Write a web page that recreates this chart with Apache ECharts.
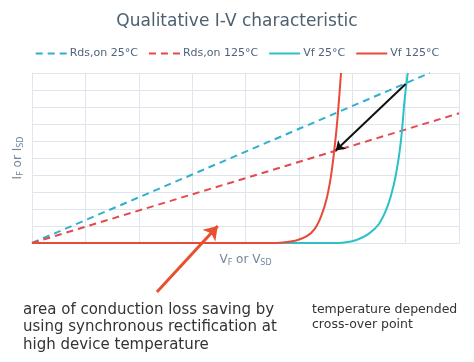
<!DOCTYPE html>
<html><head><meta charset="utf-8">
<script src="https://cdn.jsdelivr.net/npm/echarts@6/dist/echarts.min.js"></script>
<style>html,body{margin:0;padding:0;background:#fff}#c{width:474px;height:362px}</style>
</head><body><div id="c"></div>
<script>
// Series names
var seriesNames = ['Rds,on 25°C', 'Rds,on 125°C', 'Vf 25°C', 'Vf 125°C'];
// Rds,on 25°C (straight line)
var rds25X = [0, 7.45];
var rds25Y = [0, 10];
// Rds,on 125°C (straight line)
var rds125X = [0, 8];
var rds125Y = [0, 7.63];
// Vf 25°C diode curve
var vf25X = [0, 5.6, 5.85, 6.08, 6.3, 6.5, 6.66, 6.78, 6.87, 6.93, 6.98, 7.04];
var vf25Y = [0, 0, 0.03, 0.18, 0.52, 1.12, 2.15, 3.45, 5.0, 6.55, 8.4, 10];
// Vf 125°C diode curve
var vf125X = [0, 4.45, 4.7, 4.95, 5.15, 5.3, 5.42, 5.52, 5.6, 5.66, 5.72, 5.79];
var vf125Y = [0, 0, 0.03, 0.15, 0.4, 0.85, 1.6, 2.6, 3.9, 5.37, 7.2, 10];
// Annotation arrows (data coordinates: from -> to)
var blackArrow = [[7.0, 9.35], [5.69, 5.44]];
var redArrow = [[2.34, -2.88], [3.48, 1.0]];
// Axis range
var xMin = 0, xMax = 8, xStep = 1;
var yMin = 0, yMax = 10, yStep = 1;

function zip(xs, ys) { return xs.map(function (x, i) { return [x, ys[i]]; }); }

var FONT = 'DejaVu Sans';
var chart = echarts.init(document.getElementById('c'), null, {renderer: 'canvas'});
var gridColor = '#dfe5ec';
chart.setOption({
  animation: false,
  backgroundColor: '#fff',
  textStyle: {fontFamily: FONT},
  title: {
    text: 'Qualitative I-V characteristic',
    left: 'center', top: 8,
    textStyle: {fontFamily: FONT, fontSize: 17, fontWeight: 'normal', color: '#4d6070'}
  },
  legend: {
    data: seriesNames,
    top: 43, left: 'center',
    itemWidth: 31, itemHeight: 10, itemGap: 10,
    itemStyle: {opacity: 0},
    textStyle: {fontFamily: FONT, fontSize: 11, color: '#50647a', padding: [0, 0, 0, -2]}
  },
  grid: {left: 32, right: 15, top: 73, bottom: 119, containLabel: false},
  xAxis: {
    type: 'value', min: xMin, max: xMax, interval: xStep,
    name: '{a|V}{s|F}{a| or V}{s|SD}',
    nameLocation: 'middle', nameGap: 11,
    nameTextStyle: {
      rich: {
        a: {fontFamily: FONT, fontSize: 12, color: '#7088a0', verticalAlign: 'bottom'},
        s: {fontFamily: FONT, fontSize: 8, color: '#7088a0', verticalAlign: 'bottom', padding: [0, 0, -1, 0]}
      }
    },
    axisLine: {show: true, lineStyle: {color: gridColor}},
    axisTick: {show: false}, axisLabel: {show: false},
    splitLine: {show: true, lineStyle: {color: gridColor, width: 1}}
  },
  yAxis: {
    type: 'value', min: yMin, max: yMax, interval: yStep,
    name: '{a|I}{s|F}{a| or I}{s|SD}',
    nameLocation: 'middle', nameGap: 8, nameRotate: 90,
    nameTextStyle: {
      rich: {
        a: {fontFamily: FONT, fontSize: 12, color: '#7088a0', verticalAlign: 'bottom'},
        s: {fontFamily: FONT, fontSize: 8, color: '#7088a0', verticalAlign: 'bottom', padding: [0, 0, -1, 0]}
      }
    },
    axisLine: {show: true, lineStyle: {color: gridColor}},
    axisTick: {show: false}, axisLabel: {show: false},
    splitLine: {show: true, lineStyle: {color: gridColor, width: 1}}
  },
  series: [
    {name: seriesNames[0], type: 'line', data: zip(rds25X, rds25Y), symbol: 'none',
     lineStyle: {color: '#2fb0cc', width: 2, type: [7, 5]}, itemStyle: {color: '#2fb0cc'}, z: 3},
    {name: seriesNames[1], type: 'line', data: zip(rds125X, rds125Y), symbol: 'none',
     lineStyle: {color: '#e5484d', width: 2, type: [7, 5]}, itemStyle: {color: '#e5484d'}, z: 3},
    {name: seriesNames[2], type: 'line', data: zip(vf25X, vf25Y), symbol: 'none', smooth: 0.3,
     lineStyle: {color: '#2dc0c8', width: 2}, itemStyle: {color: '#2dc0c8'}, z: 4},
    {name: seriesNames[3], type: 'line', data: zip(vf125X, vf125Y), symbol: 'none', smooth: 0.3,
     lineStyle: {color: '#e84a38', width: 2}, itemStyle: {color: '#e84a38'}, z: 5},
    {type: 'lines', coordinateSystem: 'cartesian2d', clip: false, z: 6,
     symbol: ['none', 'arrow'], symbolSize: 9,
     lineStyle: {color: '#111', width: 2, opacity: 1},
     data: [{coords: blackArrow}]},
    {type: 'lines', coordinateSystem: 'cartesian2d', clip: false, z: 6,
     symbol: ['none', 'arrow'], symbolSize: 13,
     lineStyle: {color: '#e8502e', width: 3, opacity: 1},
     data: [{coords: redArrow}]}
  ],
  graphic: [
    {type: 'text', left: 23, top: 301,
     style: {text: 'area of conduction loss saving by\nusing synchronous rectification at\nhigh device temperature',
             font: '15px "DejaVu Sans"', fill: '#333', lineHeight: 17.5}},
    {type: 'text', left: 312, top: 302,
     style: {text: 'temperature depended\ncross-over point',
             font: '12.5px "DejaVu Sans"', fill: '#333', lineHeight: 15}}
  ]
});
</script></body></html>
